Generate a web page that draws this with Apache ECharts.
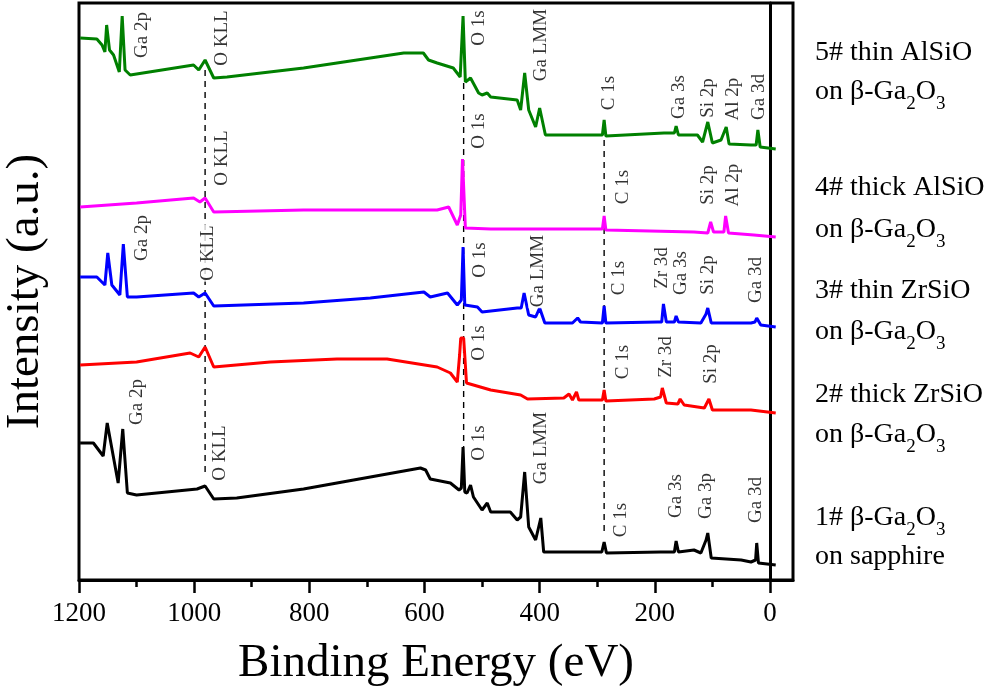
<!DOCTYPE html>
<html><head><meta charset="utf-8">
<script src="https://cdn.jsdelivr.net/npm/echarts@6/dist/echarts.min.js"></script>
<style>html,body{margin:0;padding:0;background:#fff}#c{width:997px;height:693px}</style>
</head><body><div id="c"></div>
<script>
// ---- data: [binding energy (eV), intensity (a.u., offset stacked)] ----
const sample1 = [[1198,137],[1175,137],[1158,124],[1151,157],[1132,97],[1124,151],[1116,87],[1100,85],[995,91],[981,94],[966,81],[926,82],[810,91],[694,103],[607,112],[598,110],[590,101],[555,97],[540,90],[536,92],[533,133],[530,88],[526,87],[520,95],[515,83],[500,70],[491,77],[485,68],[451,68],[439,60],[433,63],[426,108],[419,53],[407,40],[398,62],[393,28],[292,28],[288,38],[284,27],[190,28],[166,28],[163,39],[159,28],[132,30],[120,27],[111,40],[108,47],[102,22],[100,20],[50,20],[33,18],[25,20],[23,37],[20,17],[-10,15]];
const sample2 = [[1198,215],[1100,218],[1007,227],[992,223],[981,233],[966,213],[868,218],[752,221],[665,221],[578,213],[555,207],[543,198],[539,225],[537,242],[532,242],[529,215],[527,197],[503,193],[485,190],[433,185],[421,181],[358,182],[349,186],[343,180],[336,188],[332,180],[291,180],[288,190],[285,179],[201,181],[190,183],[187,192],[180,177],[160,176],[156,181],[149,175],[114,172],[106,181],[100,170],[33,170],[-10,167]];
const sample3 = [[1198,303],[1169,303],[1155,295],[1150,327],[1143,295],[1129,285],[1123,336],[1116,283],[1100,283],[1001,287],[992,283],[981,287],[966,274],[810,277],[694,282],[601,288],[590,283],[560,287],[543,275],[536,280],[533,333],[530,275],[529,273],[508,273],[500,268],[439,272],[432,272],[427,287],[419,265],[407,263],[400,272],[391,257],[343,257],[340,258],[334,262],[329,258],[291,257],[288,274],[285,257],[195,258],[188,258],[185,276],[180,258],[166,258],[163,264],[159,258],[120,257],[111,266],[108,272],[102,257],[100,257],[33,257],[26,258],[23,262],[16,255],[-10,253]];
const sample4 = [[1198,373],[1100,377],[1001,382],[990,378],[981,382],[966,368],[810,370],[578,370],[558,373],[543,355],[537,365],[534,421],[532,421],[529,352],[485,351],[291,351],[288,364],[285,350],[132,348],[108,347],[105,348],[103,358],[98,348],[80,348],[77,364],[72,347],[28,345],[-10,343]];
const sample5 = [[1198,542],[1169,541],[1160,535],[1155,528],[1152,555],[1147,530],[1140,525],[1130,508],[1125,564],[1120,510],[1111,505],[1001,515],[992,510],[981,520],[966,502],[943,503],[810,512],[694,522],[636,527],[602,527],[593,520],[578,517],[550,512],[538,503],[533,564],[529,498],[520,502],[506,487],[500,485],[491,487],[485,483],[439,480],[433,470],[426,507],[419,470],[407,453],[400,472],[390,445],[291,445],[288,460],[285,444],[184,447],[166,447],[163,454],[159,445],[126,445],[117,438],[108,458],[100,437],[85,440],[76,453],[71,436],[33,435],[24,435],[21,450],[17,433],[-10,431]];

// reference lines: energy, top intensity, bottom intensity
const refLineE = [981, 532, 288];
const refLineTop = [510, 497, 440];
const refLineBottom = [103, 133, 45];

// peak annotations: text, energy, intensity
const annotations = [
  ['Ga 2p',1090,545],['O KLL',951,542],['O 1s',506,552],['Ga LMM',398,535],['C 1s',280,487],['Ga 3s',158,483],['Si 2p',108,482],['Al 2p',64,481],['Ga 3d',19,483],
  ['O 1s',506,449],['O KLL',951,422],['C 1s',256,393],['Si 2p',108,395],['Al 2p',64,395],
  ['Ga 2p',1090,342],['O KLL',976,327],['O 1s',504,320],['Ga LMM',403,309],['C 1s',263,302],['Zr 3d',188,312],['Ga 3s',155,307],['Si 2p',108,305],['Ga 3d',24,300],
  ['O 1s',506,237],['C 1s',256,218],['Zr 3d',181,223],['Si 2p',103,216],
  ['Ga 2p',1099,178],['O KLL',955,127],['O 1s',506,137],['Ga LMM',398,132],['C 1s',259,60],['Ga 3s',164,84],['Ga 3p',111,84],['Ga 3d',24,80]
];

const majorTicks = [0,200,400,600,800,1000,1200];
const minorTicks = [100,300,500,700,900,1100];

const sampleLine1 = ['5# thin AlSiO','4# thick AlSiO','3# thin ZrSiO','2# thick ZrSiO','1# β-Ga{s|2}O{s|3}'];
const sampleLine2 = ['on β-Ga{s|2}O{s|3}','on β-Ga{s|2}O{s|3}','on β-Ga{s|2}O{s|3}','on β-Ga{s|2}O{s|3}','on sapphire'];

// ---- styling / layout ----
const FONT = '"Liberation Serif","Times New Roman",serif';
const colors = ['#000000','#ff0000','#0000ff','#ff00ff','#008000'];
const legendY1 = [53,188,291,395,518];
const legendY2 = [92,230,332,435,557];

const chart = echarts.init(document.getElementById('c'));

const lineSeries = [sample1, sample2, sample3, sample4, sample5].map((d,i)=>({
  type:'line', data:d, symbol:'none', showSymbol:false, z:3,
  lineStyle:{color:colors[i], width:3}, animation:false
}));
const dashSeries = refLineE.map((e,i)=>({
  type:'line', data:[[e,refLineTop[i]],[e,refLineBottom[i]]], symbol:'none', z:2,
  lineStyle:{color:'#000', width:1.4, type:[6,5]}, animation:false
}));
const annSeries = {
  type:'scatter', symbolSize:1, itemStyle:{color:'rgba(0,0,0,0)'}, z:5, animation:false,
  data: annotations.map(a=>({name:a[0], value:[a[1],a[2]]})),
  label:{show:true, formatter:'{b}', position:'inside', rotate:90, color:'#000',
    fontFamily:FONT, fontSize:19, align:'center', verticalAlign:'middle',
    backgroundColor:'#fff', padding:[0,1]}
};

const graphics = [];
const rich = {s:{fontSize:19, fontFamily:FONT, fill:'#000', padding:[24,0,0,0]}};
sampleLine1.forEach((t,i)=>{
  graphics.push({type:'text', x:815, y:legendY1[i], style:{text:t, fontSize:28, fontFamily:FONT, fill:'#000', verticalAlign:'middle', rich:rich}});
  graphics.push({type:'text', x:815, y:legendY2[i], style:{text:sampleLine2[i], fontSize:28, fontFamily:FONT, fill:'#000', verticalAlign:'middle', rich:rich}});
});

const axisCommon = {
  type:'value', min:-40, max:1200, inverse:true, position:'bottom',
  splitLine:{show:false}
};

chart.setOption({
  animation:false,
  backgroundColor:'#fff',
  grid:{left:79, right:204, top:3, bottom:113, containLabel:false, outerBoundsMode:'none',
    show:true, borderColor:'#000', borderWidth:3, backgroundColor:'transparent'},
  xAxis:[
    Object.assign({}, axisCommon, {
      name:'Binding Energy (eV)', nameLocation:'middle', nameGap:60,
      nameTextStyle:{fontSize:47, fontFamily:FONT, color:'#000'},
      axisLine:{show:true, lineStyle:{color:'#000', width:3}},
      axisTick:{show:true, customValues:majorTicks, length:13, inside:false, lineStyle:{color:'#000', width:2.5}},
      axisLabel:{show:true, customValues:majorTicks, formatter:v=>String(v), fontSize:27, fontFamily:FONT, color:'#000', margin:20}
    }),
    Object.assign({}, axisCommon, {
      axisLine:{show:false},
      axisTick:{show:true, customValues:minorTicks, length:7, inside:false, lineStyle:{color:'#000', width:2.5}},
      axisLabel:{show:false}
    })
  ],
  yAxis:{
    type:'value', min:0, max:577,
    name:'Intensity (a.u.)', nameLocation:'middle', nameRotate:90, nameGap:30,
    nameTextStyle:{fontSize:47, fontFamily:FONT, color:'#000'},
    axisLine:{show:true, lineStyle:{color:'#000', width:3}},
    axisTick:{show:false}, axisLabel:{show:false}, splitLine:{show:false}
  },
  graphic:graphics,
  series:[...dashSeries, ...lineSeries, annSeries]
});
</script></body></html>
